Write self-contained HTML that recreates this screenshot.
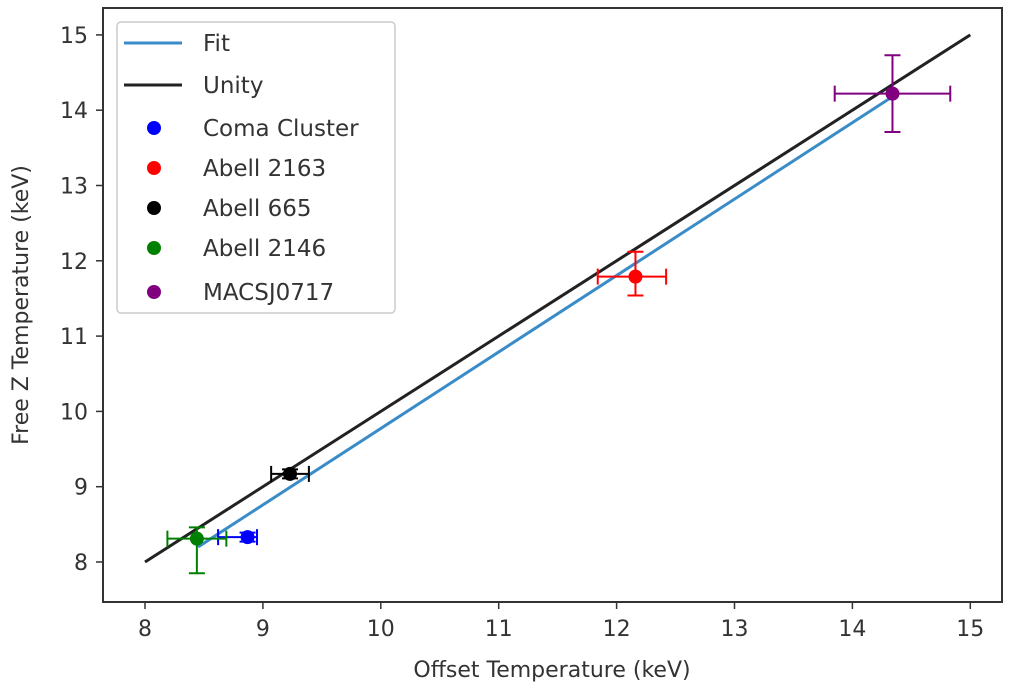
<!DOCTYPE html>
<html><head><meta charset="utf-8"><style>
body{margin:0;background:#fff;}
svg text{font-family:"DejaVu Sans","Liberation Sans",sans-serif;fill:#333;}
</style></head><body>
<svg id="chart" width="1020" height="694">
<g id="plot"></g>
</svg>
<script>
const names=["Coma Cluster","Abell 2163","Abell 665","Abell 2146","MACSJ0717"];
const colors=["#0000ff","#ff0000","#000000","#008000","#800080"];
const xs=[8.87,12.16,9.23,8.44,14.34];
const ys=[8.33,11.79,9.17,8.31,14.22];
const xerrLo=[0.25,0.32,0.16,0.25,0.49];
const xerrHi=[0.08,0.26,0.16,0.25,0.49];
const yerrLo=[0.06,0.25,0.06,0.46,0.51];
const yerrHi=[0.06,0.33,0.06,0.15,0.51];
const fitX=[8.45,14.34];
const fitY=[8.2,14.18];
const unityX=[8,15];
const xTicks=[8,9,10,11,12,13,14,15];
const yTicks=[8,9,10,11,12,13,14,15];
const X=v=>145+(v-8)*117.9;
const Y=v=>562-(v-8)*75.3;
const NS="http://www.w3.org/2000/svg";
const svg=document.getElementById('chart');
function mk(t,a,p){const e=document.createElementNS(NS,t);for(const k in a)e.setAttribute(k,a[k]);(p||svg).appendChild(e);return e;}
// axes frame
const frame=mk('rect',{x:103,y:8,width:899,height:594,fill:'none',stroke:'#333','stroke-width':2});


xTicks.forEach(t=>{
 const l=mk('line',{x1:X(t),x2:X(t),y1:602,y2:609,stroke:'#333','stroke-width':1.5});
 
 
 const tx=mk('text',{x:X(t),y:636,'text-anchor':'middle','font-size':22});tx.textContent=t;
 
 
});
yTicks.forEach(t=>{
 const l=mk('line',{x1:96,x2:103,y1:Y(t),y2:Y(t),stroke:'#333','stroke-width':1.5});
 
 
 const tx=mk('text',{x:88,y:Y(t)+8,'text-anchor':'end','font-size':22});tx.textContent=t;
 
 
});
const xt=mk('text',{x:552,y:677,'text-anchor':'middle','font-size':22});xt.textContent='Offset Temperature (keV)';


const yt=mk('text',{x:0,y:0,'text-anchor':'middle','font-size':22,transform:'translate(28,305) rotate(-90)'});yt.textContent='Free Z Temperature (keV)';


// lines
const ul=mk('line',{x1:X(unityX[0]),y1:Y(unityX[0]),x2:X(unityX[1]),y2:Y(unityX[1]),stroke:'#222','stroke-width':3});


const fl=mk('line',{x1:X(fitX[0]),y1:Y(fitY[0]),x2:X(fitX[1]),y2:Y(fitY[1]),stroke:'#3a8cc8','stroke-width':3});


// points
names.forEach((n,i)=>{
 const g=mk('g',{stroke:colors[i],'stroke-width':2,fill:colors[i]});
 
 
 const cx=X(xs[i]),cy=Y(ys[i]);
 const x0=X(xs[i]-xerrLo[i]),x1=X(xs[i]+xerrHi[i]),y0=Y(ys[i]-yerrLo[i]),y1=Y(ys[i]+yerrHi[i]);
 mk('line',{x1:x0,x2:x1,y1:cy,y2:cy},g);
 mk('line',{x1:cx,x2:cx,y1:y0,y2:y1},g);
 mk('line',{x1:x0,x2:x0,y1:cy-8,y2:cy+8},g);
 mk('line',{x1:x1,x2:x1,y1:cy-8,y2:cy+8},g);
 mk('line',{x1:cx-8,x2:cx+8,y1:y0,y2:y0},g);
 mk('line',{x1:cx-8,x2:cx+8,y1:y1,y2:y1},g);
 mk('circle',{cx:cx,cy:cy,r:7,stroke:'none'},g);
});
// legend
const lg=mk('g',{});


mk('rect',{x:117,y:22,width:278,height:291,rx:4,fill:'#fff',stroke:'#ccc','stroke-width':1.5},lg);
const l1=mk('line',{x1:124,x2:182,y1:43,y2:43,stroke:'#3a8cc8','stroke-width':3},lg);
const l2=mk('line',{x1:124,x2:182,y1:85,y2:85,stroke:'#222','stroke-width':3},lg);
const lt=["Fit","Unity"].concat(names);
const ly=[43,85,128,168,208,248,292];
lt.forEach((t,i)=>{
 const tx=mk('text',{x:203,y:ly[i]+8,'font-size':23},lg);tx.textContent=t;
 
 
 if(i>=2) mk('circle',{cx:154,cy:ly[i],r:7,fill:colors[i-2]},lg);
});
</script>
</body></html>
